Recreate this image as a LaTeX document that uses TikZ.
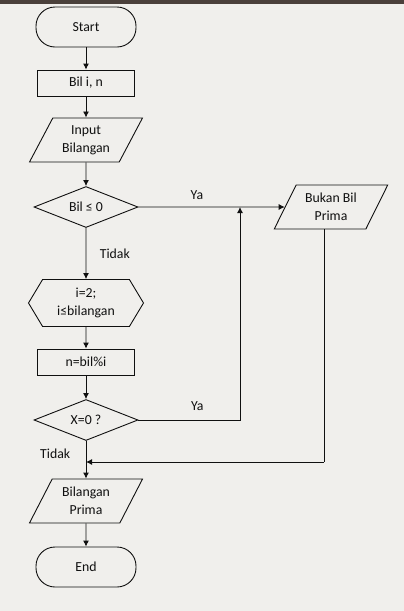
\documentclass[tikz,border=0pt]{standalone}
\usepackage{fontspec}
\setmainfont{Carlito}
\usetikzlibrary{shapes.geometric}
\usetikzlibrary{shapes.symbols}
\usetikzlibrary{arrows.meta}
\definecolor{latar}{HTML}{F0EFEC}
\definecolor{garis}{HTML}{101010}
\definecolor{bilah}{HTML}{4A403B}

\begin{document}
\begin{tikzpicture}[x=1pt,y=-1pt,
    font=\fontsize{13.8}{18}\selectfont, text=garis, draw=garis,
    terminal/.style={draw=garis, line width=0.9pt, rounded corners=19pt, minimum width=100pt, minimum height=40pt},
    proses/.style={draw=garis, line width=0.9pt, rectangle, minimum width=97pt, minimum height=26pt},
    masukan/.style={draw=garis, line width=0.9pt, trapezium, trapezium left angle=62, trapezium right angle=118,
        trapezium stretches=true, minimum width=114pt, minimum height=44pt, align=center},
    keputusan/.style={draw=garis, line width=0.9pt, diamond, aspect=2.5, inner sep=0pt, minimum width=104pt, minimum height=41pt},
    persiapan/.style={draw=garis, line width=0.9pt, signal, signal to=west and east, signal pointer angle=118,
        minimum width=115pt, minimum height=47pt, align=center},
    panah/.style={draw=garis, line width=0.9pt, -{Latex[length=6pt,width=6pt]}},
    garisan/.style={draw=garis, line width=0.9pt}]
\fill[latar] (0,0) rectangle (404,611);
\fill[bilah] (0,0) rectangle (404,4);
\useasboundingbox (0,0) rectangle (404,611);

\node[terminal] (start) at (86,27) {Start};
\node[proses] (bil) at (86,83) {Bil i, n};
\node[masukan] (input) at (86,140) {Input\\Bilangan};
\node[keputusan] (cek) at (86,207) {Bil ≤ 0};
\node[persiapan] (loop) at (86,303) {i=2;\\i≤bilangan};
\node[proses] (modulo) at (86,362) {n=bil\%i};
\node[keputusan] (cekx) at (86,420) {X=0 ?};
\node[masukan] (prima) at (86,501) {Bilangan\\Prima};
\node[terminal] (selesai) at (86,567) {End};
\node[masukan] (bukan) at (331,207) {Bukan Bil\\Prima};

\coordinate (gabung) at (240,207);
\coordinate (turun) at (324,462);
\coordinate (masuk) at (86,462);

% alur utama
\draw[panah] (start) -- (bil);
\draw[panah] (bil) -- (input);
\draw[panah] (input) -- (cek);
\draw[panah] (cek) -- node[right=10pt, pos=0.5] {Tidak} (loop);
\draw[panah] (loop) -- (modulo);
\draw[panah] (modulo) -- (cekx);
\draw[panah] (cekx) -- node[left=12pt, pos=0.35] {Tidak} (prima);
\draw[panah] (prima) -- (selesai);

% cabang ya
\draw[panah] (cek) -- node[above=4pt, pos=0.4] {Ya} (bukan);
\draw[panah] (cekx) -| node[above=6pt, pos=0.29] {Ya} (gabung);
\draw[garisan] (bukan.south -| turun) -- (turun);
\draw[panah] (turun) -- (masuk);
\end{tikzpicture}
\end{document}
